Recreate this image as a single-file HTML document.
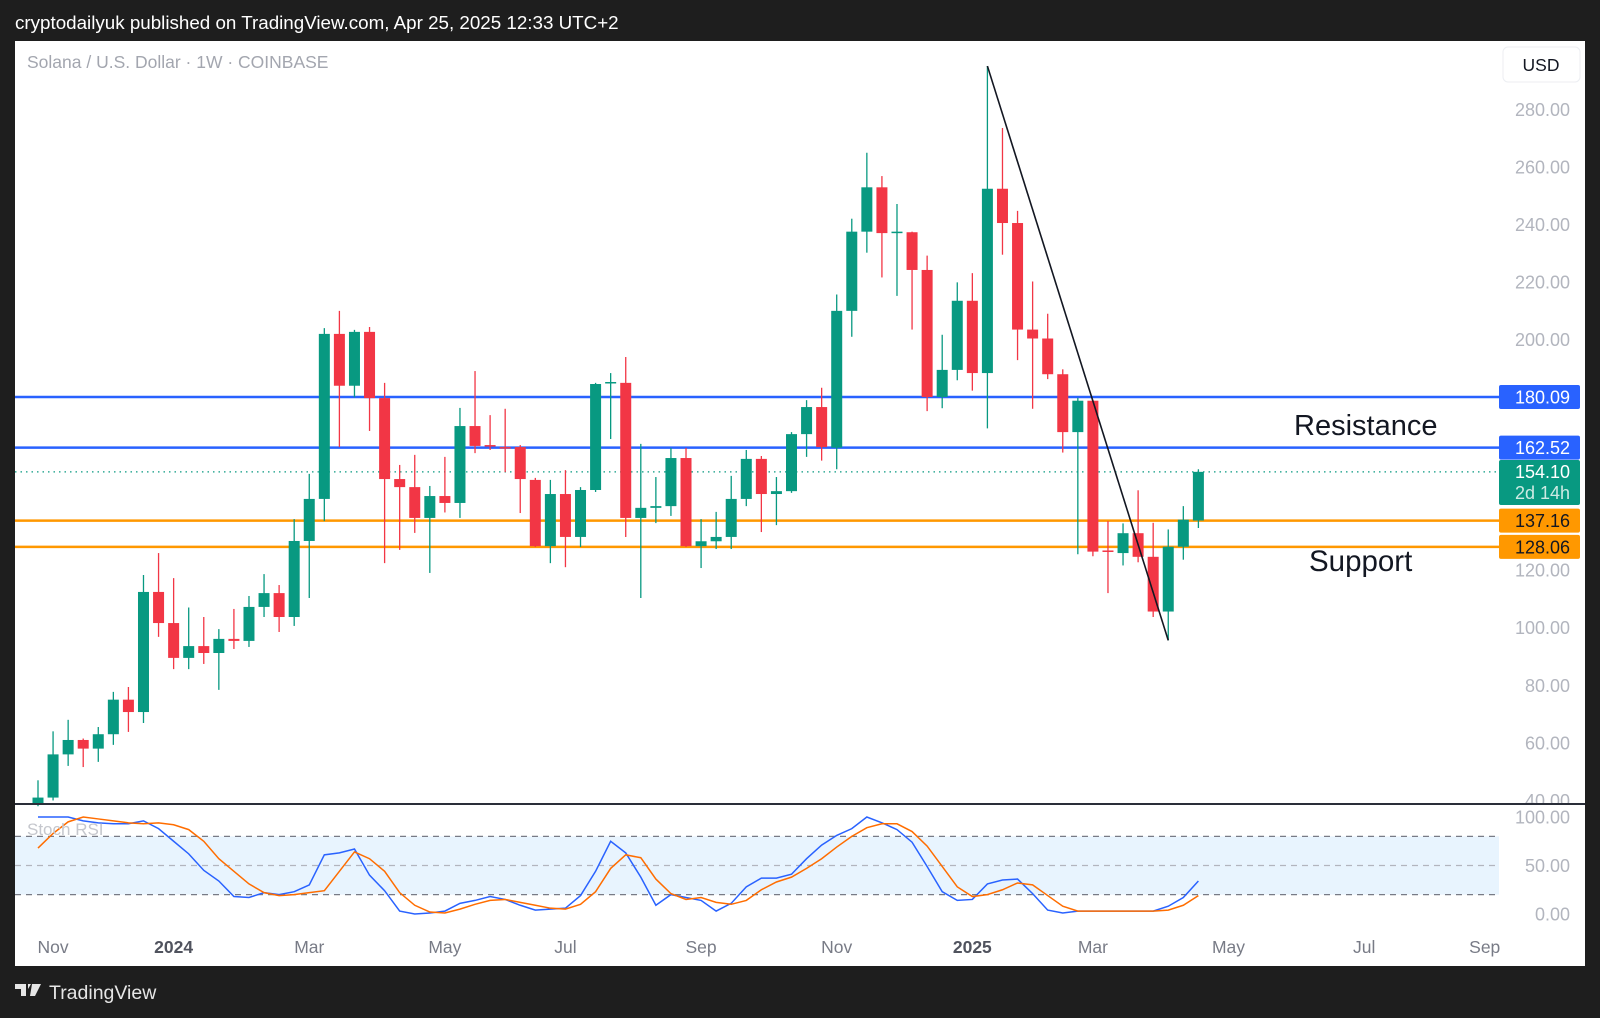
<!DOCTYPE html>
<html><head><meta charset="utf-8">
<style>
html,body{margin:0;padding:0;background:#1e1e1e;}
svg{display:block;font-family:"Liberation Sans",sans-serif;}
</style></head>
<body>
<svg id="chart" width="1600" height="1018" viewBox="0 0 1600 1018" xmlns="http://www.w3.org/2000/svg">
  <rect x="0" y="0" width="1600" height="1018" fill="#1e1e1e"/>
  <text x="15" y="29" font-size="18.8" fill="#ffffff">cryptodailyuk published on TradingView.com, Apr 25, 2025 12:33 UTC+2</text>
  <rect x="15" y="41" width="1570" height="925" fill="#ffffff"/>
  <g id="stochBg"></g>
  <g id="levels"></g>
  <g id="candles"></g>
  <g id="stoch"></g>
  <g id="axes"></g>
  <text x="27" y="68" font-size="17.5" fill="#a3a6af">Solana / U.S. Dollar · 1W · COINBASE</text>
  <text x="27" y="835" font-size="17" fill="#c5c7cd">Stoch RSI</text>
  <text x="1294" y="435" font-size="29" fill="#131722">Resistance</text>
  <text x="1309" y="571" font-size="29.5" fill="#131722">Support</text>
  <rect x="1503" y="47" width="77" height="35" rx="5" fill="#fff" stroke="#eceef2"/>
  <text x="1541" y="71" font-size="17.5" fill="#131722" text-anchor="middle">USD</text>
  <line x1="15" y1="804" x2="1585" y2="804" stroke="#2a2e39" stroke-width="2"/>
  <g>
    <path d="M15 984 h11 v12 h-5 v-7 h-6z M28 984 h3 l-3 5z M32 984 h9 l-6 12 h-5z" fill="#e6e6e6"/>
    <text x="49" y="999" font-size="19.5" fill="#e6e6e6">TradingView</text>
  </g>
</svg>
<script>
// ---- data ----
const weeks = Array.from({length:78},(_,i)=>i);
const opens  = [39,41,56,61,58,63,75,70.7,112.4,101.6,89.5,93.6,91.2,96.1,95.4,107.2,112,103.7,130.1,144.7,202,184,202.7,179.7,151.6,148.8,138.1,145.7,143.3,170,163.4,162.7,162.7,151.3,128.3,146.4,131.5,147.8,185,185,138.1,141.6,142.2,158.9,128.3,130,131.5,144.7,158.6,146.4,147.4,167.2,176.6,162.5,210,237.5,252.9,237,237.3,224.2,180.1,189.5,213.5,188.4,252.4,240.5,203.5,200.4,188,167.9,178.8,126.8,125.9,132.8,124.6,105.6,128.1,137.2];
const highs  = [47,64,68,61.5,65.5,77.7,79.4,118.3,125.9,117.2,107,103.7,99.5,106.5,111,118.6,114.8,137.7,153.4,204,210,203.4,204.4,185,156.5,160,149.2,159.3,176.3,189.1,173.8,176,163.4,152,151.3,154.7,148.8,185,188.4,194,163.8,152.3,162.4,162.4,137.7,140.2,152.7,161.7,159.6,152.3,167.9,179,183.3,215.7,242,264.9,256.8,247.1,237.5,229.2,201.7,219.9,223.1,295,273.5,244.7,220.2,209,189.7,179.8,179,137,136.2,147.7,136.4,134.1,142.2,155];
const lows   = [38,40,52,51.6,53.4,59.3,63.8,66.9,96.8,85.6,85.6,87.4,78.4,92.6,93.3,103.7,98.5,100.6,110.3,137,162.7,180,168.3,122.4,127,132.9,119,140,138.1,160.6,161.7,154,139.8,128,122.4,121,128,147.1,165.5,131.5,110.3,136.3,138.8,128,120.7,127.3,127.3,142.2,133.2,135.6,146.8,159.3,158,155,201,230.2,221.6,215.2,203.5,175.2,176.2,185.9,182.3,169.2,229.5,192.9,176,186.3,160.8,125.5,124.8,112,121.6,122.7,103.7,95.6,123.6,134.6];
const closes = [41,56,61,58,63,75,70.7,112.4,101.6,89.5,93.6,91.2,96.1,95.4,107.2,112,103.7,130.1,144.7,202,184,202.7,179.7,151.6,148.8,138.1,145.7,143.3,170,163.1,163.1,162.2,151.6,128.3,146.4,131.5,147.8,184.6,185.3,138.1,141.6,142.2,158.9,128.3,130,131.5,144.7,158.6,146.4,147.4,167.2,176.6,162.7,210,237.5,252.9,237,237.5,224.2,180.1,189.5,213.5,188.4,252.4,240.5,203.5,200.4,188,167.9,178.8,126.4,126.5,132.8,124.6,105.6,128.1,137.5,154.1];
const stochK = [100,100,100,96,94,93,93,96,88,75,62,45,34,18,17,22,20,23,30,61,63,67,40,24,3,0,1,3,11,14,18,15,9,4,5,6,19,44,75,63,38,9,20,17,14,3,11,28,37,37,41,57,71,81,88,100,94,87,74,49,23,14,15,31,35,36,21,4,1,3,3,3,3,3,3,8,17,34];
const stochD = [68,83,95,100,98,96,94,93,94,92,87,75,57,44,31,22,19,20,22,24,44,64,57,44,22,9,2,1,5,10,14,15,12,9,6,5,10,23,47,61,58,36,21,15,17,12,10,14,25,33,38,47,57,69,80,89,93,93,85,70,49,28,18,20,25,32,30,19,8,3,3,3,3,3,3,4,9,19];
const priceTicks = [40,60,80,100,120,140,160,180,200,220,240,260,280];
const stochTicks = [0,50,100];
const timeLabels = [["Nov",1,false],["2024",9,true],["Mar",18,false],["May",27,false],["Jul",35,false],["Sep",44,false],["Nov",53,false],["2025",62,true],["Mar",70,false],["May",79,false],["Jul",88,false],["Sep",96,false]];
const resistance = [180.09,162.52];
const support = [137.16,128.06];
const lastPrice = 154.10;
const trendFrom = [63,295];
const trendTo = [75,95.6];

// ---- axes ----
const NS="http://www.w3.org/2000/svg";
const xOf = i => 38 + 15.07*i;
const yOf = p => 397 + (180.09 - p)*2.88;
const ySt = v => 914 - v*0.97;
const UP="#089981", DN="#f23645";
const FS=18;
function mk(tag, attrs, parent){const e=document.createElementNS(NS,tag);for(const k in attrs)e.setAttribute(k,attrs[k]);parent.appendChild(e);return e;}
const gC=document.getElementById('candles'), gL=document.getElementById('levels'), gS=document.getElementById('stoch'), gA=document.getElementById('axes'), gB=document.getElementById('stochBg');

// levels
resistance.forEach(p=>{
  const l=mk('line',{x1:15,x2:1499,y1:yOf(p),y2:yOf(p),stroke:'#2962ff','stroke-width':2.5},gL);
  
  
  const r=mk('rect',{x:1499,y:yOf(p)-12,width:81,height:24,rx:2,fill:'#2962ff'},gL);
  
  
  const t=mk('text',{x:1570,y:yOf(p)+6.5,'font-size':FS,fill:'#fff','text-anchor':'end'},gL);
  t.textContent=p.toFixed(2);
  
  
});
const dl=mk('line',{x1:15,x2:1499,y1:yOf(lastPrice),y2:yOf(lastPrice),stroke:UP,'stroke-width':1.2,'stroke-dasharray':'1.5 4'},gL);


support.forEach(p=>{
  const l=mk('line',{x1:15,x2:1499,y1:yOf(p),y2:yOf(p),stroke:'#ff9800','stroke-width':2.5},gL);
  
  
});

// candles
weeks.forEach(i=>{
  const o=opens[i],c=closes[i],h=highs[i],l=lows[i],col=c>=o?UP:DN,x=xOf(i);
  const w=mk('line',{x1:x,x2:x,y1:yOf(h),y2:yOf(l),stroke:col,'stroke-width':1.3},gC);
  
  
  const top=yOf(Math.max(o,c)),bh=Math.max(1.5,Math.abs(yOf(o)-yOf(c)));
  const b=mk('rect',{x:x-5.5,y:top,width:11,height:bh,fill:col},gC);
  
  
});
const tl=mk('line',{x1:xOf(trendFrom[0]),y1:yOf(trendFrom[1]),x2:xOf(trendTo[0]),y2:yOf(trendTo[1]),stroke:'#131722','stroke-width':1.6},gC);



// price tags right (support + last)
const gt=mk('rect',{x:1499,y:460,width:81,height:45,rx:2,fill:UP},gL);


const gt1=mk('text',{x:1570,y:478,'font-size':FS,fill:'#fff','text-anchor':'end'},gL);
gt1.textContent=lastPrice.toFixed(2);


const gt2=mk('text',{x:1570,y:499,'font-size':FS,fill:'#cdeae3','text-anchor':'end'},gL);
gt2.textContent='2d 14h';


support.forEach(p=>{
  const r=mk('rect',{x:1499,y:yOf(p)-12,width:81,height:24,rx:2,fill:'#ff9800'},gL);
  
  
  const t=mk('text',{x:1570,y:yOf(p)+6.5,'font-size':FS,fill:'#131722','text-anchor':'end'},gL);
  t.textContent=p.toFixed(2);
  
  
});

// price axis
priceTicks.forEach(p=>{
  const y=yOf(p);
  if(Math.abs(y-yOf(lastPrice))<30 || support.some(s=>Math.abs(y-yOf(s))<14) || resistance.some(s=>Math.abs(y-yOf(s))<14)) return;
  const t=mk('text',{x:1570,y:y+6.5,'font-size':FS,fill:'#b2b5be','text-anchor':'end'},gA);
  t.textContent=p.toFixed(2);
  
  
});
mk('rect',{x:1499,y:805,width:85,height:6,fill:'#fff'},gA);

// stoch band
const band=mk('rect',{x:15,y:ySt(80),width:1484,height:ySt(20)-ySt(80),fill:'#2196f3','fill-opacity':0.1},gB);


[80,50,20].forEach(v=>{
  const l=mk('line',{x1:15,x2:1499,y1:ySt(v),y2:ySt(v),stroke:v===50?'#b2b5be':'#787b86','stroke-width':1.2,'stroke-dasharray':'6 5'},gB);
  
  
});
stochTicks.forEach(v=>{
  const t=mk('text',{x:1570,y:ySt(v)+6.5,'font-size':FS,fill:'#b2b5be','text-anchor':'end'},gA);
  t.textContent=v.toFixed(2);
  
  
});
const kp=mk('polyline',{points:stochK.map((v,i)=>xOf(i)+','+ySt(v)).join(' '),fill:'none',stroke:'#2962ff','stroke-width':1.5},gS);


const dp=mk('polyline',{points:stochD.map((v,i)=>xOf(i)+','+ySt(v)).join(' '),fill:'none',stroke:'#ff6d00','stroke-width':1.5},gS);


mk('rect',{x:0,y:805,width:15,height:130,fill:'#1e1e1e'},gS);

// time axis
timeLabels.forEach(([lab,i,bold])=>{
  const t=mk('text',{x:xOf(i),y:953,'font-size':17.5,fill:bold?'#50535e':'#787b86','text-anchor':'middle','font-weight':bold?'bold':'normal'},gA);
  t.textContent=lab;
  
  
});
mk('rect',{x:1585,y:930,width:15,height:40,fill:'#1e1e1e'},gA);
</script>
</body></html>
